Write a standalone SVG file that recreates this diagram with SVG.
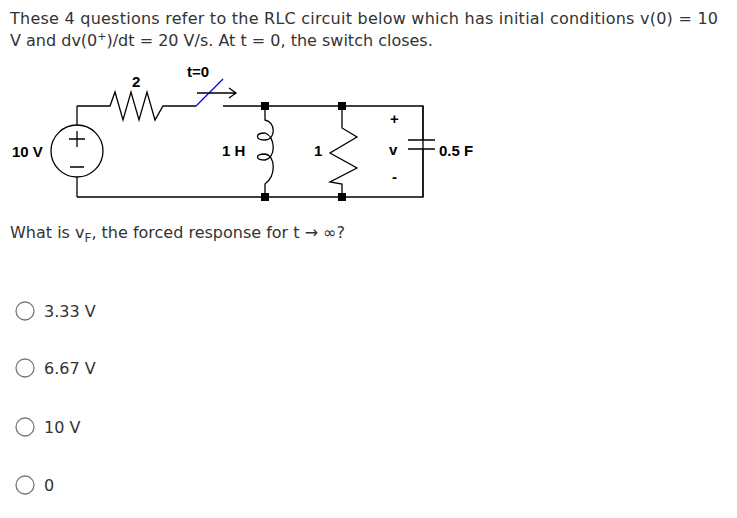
<svg xmlns="http://www.w3.org/2000/svg" width="737" height="518" viewBox="0 0 737 518">
<style>
.t{font-family:"DejaVu Sans",Verdana,sans-serif;font-size:16px;fill:#333}
.c{font-family:"Liberation Sans",Arial,sans-serif;font-size:15px;font-weight:bold;fill:#000}
.w{fill:none;stroke:#000;stroke-width:1.3}
.r{fill:#fff;stroke:#777;stroke-width:1.3}
</style>
<rect width="737" height="518" fill="#fff"/>
<text class="t" x="10" y="24" textLength="708">These 4 questions refer to the RLC circuit below which has initial conditions v(0) = 10</text>
<text class="t" x="10" y="46">V and dv(0<tspan dy="-6" font-size="11">+</tspan><tspan dy="6">)/dt = 20 V/s.  At t = 0, the switch closes.</tspan></text>
<g id="source"><circle class="w" cx="77" cy="151" r="26"/><path class="w" d="M77 106V125M77 177V197M69 139H85M77 131V147M70 167H84"/><text class="c" x="12" y="157">10 V</text></g>
<g id="r2"><path class="w" d="M77 106H110L115 92L123 120L131 92L139 120L147 92L155 120L163 106H196"/><text class="c" x="132" y="87">2</text></g>
<g id="switch"><path d="M196 106L223 79" stroke="#00f" stroke-width="1.2"/><path class="w" d="M223 106H423V197H77M197 93H236M229 88L236 93L229 98"/><text class="c" x="187" y="77">t=0</text></g>
<g id="L"><path class="w" d="M265 106V120C276 122 276 140 265 140C255 140 255 133 265 133C276 137 276 158 265 160C255 160 255 154 265 154C276 156 276 176 265 184V197"/><text class="c" x="222" y="156">1 H</text></g>
<g id="R1"><path class="w" d="M342 106V128L357 137L330 153L357 168L330 182L342 184V197"/><text class="c" x="314" y="156">1</text></g>
<g id="C"><path class="w" d="M423 106V140M423 149V197M408 140H435M408 149H435"/><text class="c" x="439" y="156">0.5 F</text><text class="c" x="390" y="124" font-size="12">+</text><text class="c" x="389" y="155" font-size="12">v</text><text class="c" x="392" y="182" font-size="12">-</text></g>
<g id="nodes" fill="#000"><rect x="261" y="102" width="8" height="8"/><rect x="338" y="102" width="8" height="8"/><rect x="261" y="193" width="8" height="8"/><rect x="338" y="193" width="8" height="8"/></g>
<text class="t" x="10" y="238">What is v<tspan dy="4" font-size="12">F</tspan><tspan dy="-4">, the forced response for t → ∞?</tspan></text>
<g id="opts"><circle class="r" cx="25" cy="311" r="9"/><text class="t" x="44" y="317">3.33 V</text>
<circle class="r" cx="25" cy="368" r="9"/><text class="t" x="44" y="374">6.67 V</text>
<circle class="r" cx="25" cy="427" r="9"/><text class="t" x="44" y="433">10 V</text>
<circle class="r" cx="25" cy="485" r="9"/><text class="t" x="44" y="491">0</text></g>
</svg>
